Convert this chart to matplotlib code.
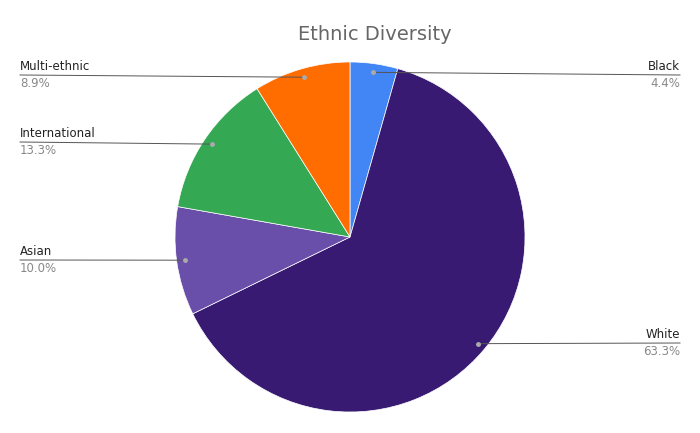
import matplotlib
matplotlib.use("Agg")
import matplotlib.pyplot as plt
import numpy as np

labels = ["Black", "White", "Asian", "International", "Multi-ethnic"]
values = [4.4, 63.3, 10.0, 13.3, 8.9]
colors = ["#4285F4", "#381A72", "#6A4FAA", "#34A853", "#FF6D01"]

H = 433
fig = plt.figure(figsize=(7, 4.33), dpi=100)
ax = fig.add_axes([0, 0, 1, 1])
ax.set_xlim(0, 700); ax.set_ylim(0, H); ax.axis("off")
cx, cy, R = 350, H - 237, 175
wedges, _ = ax.pie(values, colors=colors, startangle=90, counterclock=False,
                   center=(cx, cy), radius=R, frame=True,
                   wedgeprops=dict(edgecolor="white", linewidth=0.5))
ax.set_xlim(0, 700); ax.set_ylim(0, H); ax.axis("off"); ax.set_aspect("auto")

line_y = {"Black": 75, "White": 343, "Asian": 260, "International": 142, "Multi-ethnic": 75}
total = sum(values)
acc = 0
for lab, v in zip(labels, values):
    mid = 90 - (acc + v / 2) / total * 360
    acc += v
    a = np.deg2rad(mid)
    dx, dy = cx + 0.95 * R * np.cos(a), cy + 0.95 * R * np.sin(a)
    ly = H - line_y[lab]
    right = np.cos(a) > 0
    ex = 680 if right else 20
    ax.plot([dx, ex], [dy, ly], color="#555555", lw=0.7)
    ax.plot([dx], [dy], "o", color="#aaaaaa", ms=2.5)
    ha = "right" if right else "left"
    ax.text(ex, ly + 2, lab, ha=ha, va="bottom", fontsize=8.5, color="#222222")
    ax.text(ex, ly - 2, f"{v:.1f}%", ha=ha, va="top", fontsize=8.5, color="#888888")

ax.text(375, H - 34, "Ethnic Diversity", ha="center", va="center", fontsize=14, color="#666666")
fig.savefig("out.png", dpi=100)
